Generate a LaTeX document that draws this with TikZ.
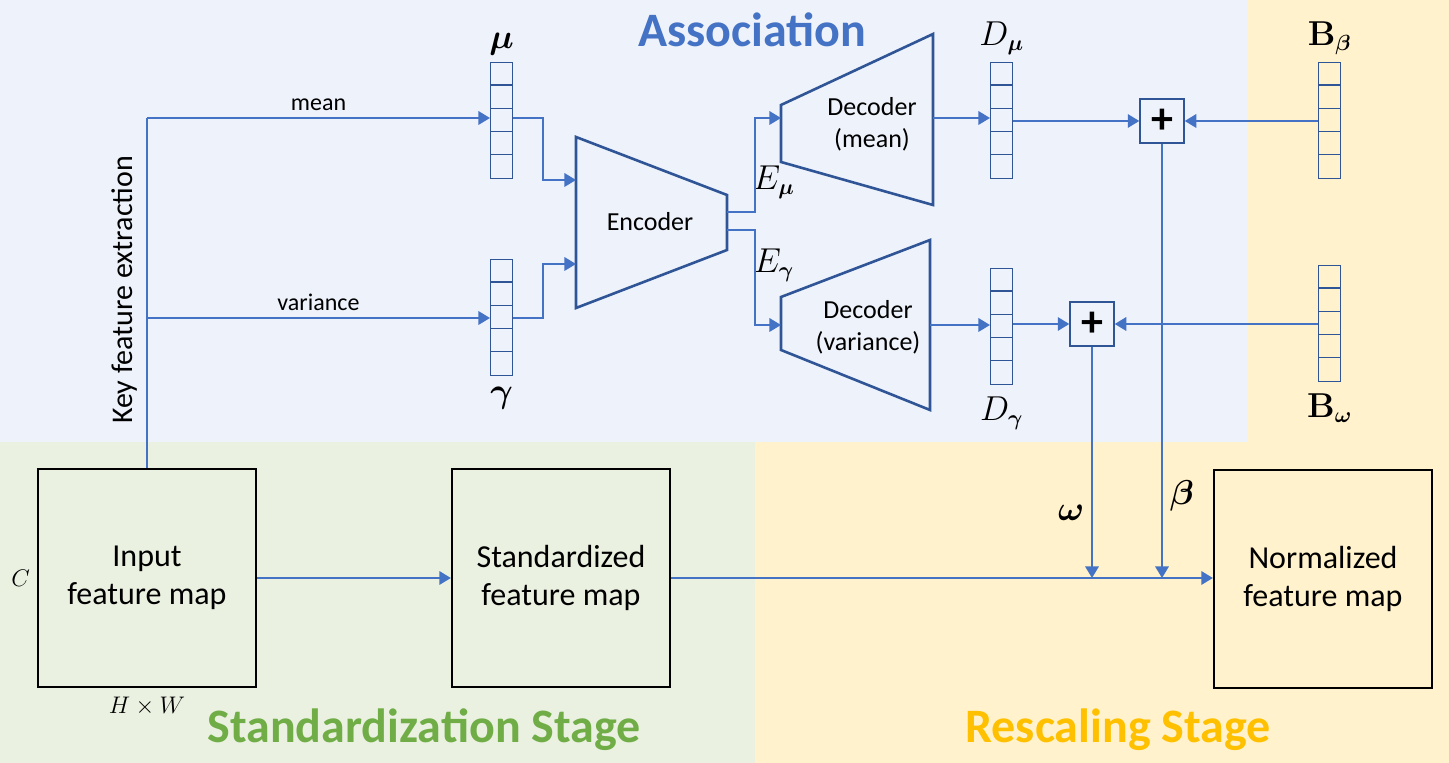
\documentclass[tikz,border=0pt]{standalone}
\usepackage{amsmath,bm}
\usepackage[no-math]{fontspec}
\setmainfont{Carlito}
\usetikzlibrary{positioning, arrows.meta}
\definecolor{lineblue}{HTML}{4472C4}
\definecolor{darkblue}{HTML}{2F5597}
\definecolor{assocbg}{HTML}{EEF2FB}
\definecolor{stdbg}{HTML}{EBF1E1}
\definecolor{rescbg}{HTML}{FFF2CC}
\definecolor{stdgreen}{HTML}{70AD47}
\definecolor{rescgold}{HTML}{FFC000}
\newcommand{\featvec}[3]{% name, x, top y
  \node (#1) [vec, anchor=north west] at (#2,#3) {};
  \foreach \k in {1,...,4}
    \draw [darkblue, line width=0.7pt] ([yshift=-\k*23.2*0.5pt]#1.north west) -- ([yshift=-\k*23.2*0.5pt]#1.north east);
}
\begin{document}
\begin{tikzpicture}[x=0.5pt, y=-0.5pt, >=Triangle]
      \tikzstyle{fmap} = [rectangle, draw=black, line width=1.1pt, minimum width=109pt, minimum height=109pt, align=center, font=\fontsize{16}{19}\selectfont]
      \tikzstyle{vec} = [rectangle, draw=darkblue, line width=0.7pt, minimum width=11pt, minimum height=58pt, inner sep=0pt]
      \tikzstyle{plus} = [rectangle, draw=darkblue, line width=0.7pt, minimum size=22pt, inner sep=0pt, font=\fontsize{22}{22}\selectfont\bfseries]
      \tikzstyle{arrow} = [lineblue, line width=1.1pt, ->]
      \tikzstyle{line} = [lineblue, line width=1.1pt]
      \tikzstyle{trap} = [darkblue, line width=1.3pt]
      \tikzstyle{lab} = [font=\fontsize{12}{14}\selectfont, align=center]
      \tikzstyle{mlab} = [font=\fontsize{16}{16}\selectfont]

      % backgrounds
      \fill [assocbg] (0,0) rectangle (1248,442);
      \fill [rescbg] (1248,0) rectangle (1449,442);
      \fill [rescbg] (755,442) rectangle (1449,763);
      \fill [stdbg] (0,442) rectangle (755,763);
      \node [font=\fontsize{24}{24}\selectfont\bfseries, text=lineblue] at (752,30) {Association};
      \node [font=\fontsize{24}{24}\selectfont\bfseries, text=stdgreen] at (424,730) {Standardization Stage};
      \node [font=\fontsize{24}{24}\selectfont\bfseries, text=rescgold] at (1118,730) {Rescaling Stage};

      % feature maps
      \node (input) [fmap] at (147,578) {Input\\feature map};
      \node (standard) [fmap] at (561,578) {Standardized\\feature map};
      \node (normal) [fmap] at (1323,579) {Normalized\\feature map};
      \node [font=\fontsize{13}{13}\selectfont, left=0pt of input] {$C$};
      \node [font=\fontsize{13}{13}\selectfont, below=1pt of input] {$H\times W$};

      % vectors
      \featvec{mu}{490}{62}
      \featvec{gam}{490}{259}
      \featvec{dmu}{990}{62}
      \featvec{dgam}{990}{268}
      \featvec{bbeta}{1318}{62}
      \featvec{bomega}{1318}{265}
      \node [mlab, above=0pt of mu] {$\bm{\mu}$};
      \node [mlab, below=2pt of gam] {$\bm{\gamma}$};
      \node [mlab, above=0pt of dmu] {$D_{\bm{\mu}}$};
      \node [mlab, below=2pt of dgam] {$D_{\bm{\gamma}}$};
      \node [mlab, above=0pt of bbeta] {$\mathbf{B}_{\bm{\beta}}$};
      \node [mlab, below=2pt of bomega] {$\mathbf{B}_{\bm{\omega}}$};

      % encoder and decoders
      \draw [trap] (576,137) -- (727,195) -- (727,250) -- (576,308) -- cycle;
      \node (encoder) [lab, font=\fontsize{13}{15}\selectfont] at (650,222) {Encoder};
      \coordinate (encin1) at (576,180);
      \coordinate (encin2) at (576,264);
      \coordinate (encout1) at (727,212);
      \coordinate (encout2) at (727,230);
      \draw [trap] (781,105) -- (933,34) -- (933,205) -- (781,162) -- cycle;
      \node (decmean) [lab, font=\fontsize{13}{16}\selectfont] at (872,124) {Decoder\\(mean)};
      \coordinate (dec1in) at (781,118);
      \coordinate (dec1out) at (933,118);
      \draw [trap] (781,297) -- (930,240) -- (930,410) -- (781,350) -- cycle;
      \node (decvar) [lab, font=\fontsize{13}{16}\selectfont] at (868,327) {Decoder\\(variance)};
      \coordinate (dec2in) at (781,325);
      \coordinate (dec2out) at (930,325);
      \node [mlab] at (774,182) {$E_{\bm{\mu}}$};
      \node [mlab] at (774,265) {$E_{\bm{\gamma}}$};

      % plus nodes
      \node (plusbeta) [plus] at (1162,121) {+};
      \node (plusomega) [plus] at (1092,324) {+};

      % key feature extraction
      \coordinate (branchmu) at (147,118);
      \coordinate (branchgam) at (147,318);
      \draw [line] (input.north) -- (branchmu);
      \draw [arrow] (branchmu) -- node [lab, above, text=black] {mean} (mu.west |- branchmu);
      \draw [arrow] (branchgam) -- node [lab, above, text=black] {variance} (gam.west |- branchgam);
      \node [rotate=90, font=\fontsize{15}{15}\selectfont] at (125,290) {Key feature extraction};

      \draw [arrow] (mu.east |- branchmu) -| (543,180) -- (encin1);
      \draw [arrow] (gam.east |- branchgam) -| (543,264) -- (encin2);
      \draw [arrow] (encout1) -| (755,118) -- (dec1in);
      \draw [arrow] (encout2) -| (755,325) -- (dec2in);
      \draw [arrow] (dec1out) -- (dmu.west |- dec1out);
      \draw [arrow] (dec2out) -- (dgam.west |- dec2out);
      \draw [arrow] (dmu.east |- plusbeta) -- (plusbeta);
      \draw [arrow] (dgam.east |- plusomega) -- (plusomega);
      \draw [arrow] (bbeta.west |- plusbeta) -- (plusbeta);
      \draw [arrow] (bomega.west |- plusomega) -- (plusomega);

      % rescaling
      \draw [arrow] (input) -- (standard);
      \draw [arrow] (standard) -- (normal.west |- standard);
      \draw [arrow] (plusbeta) -- node [mlab, right, text=black, pos=0.81] {$\bm{\beta}$} (plusbeta |- standard);
      \draw [arrow] (plusomega) -- node [mlab, left, text=black, pos=0.72] {$\bm{\omega}$} (plusomega |- standard);

\end{tikzpicture}
\end{document}
